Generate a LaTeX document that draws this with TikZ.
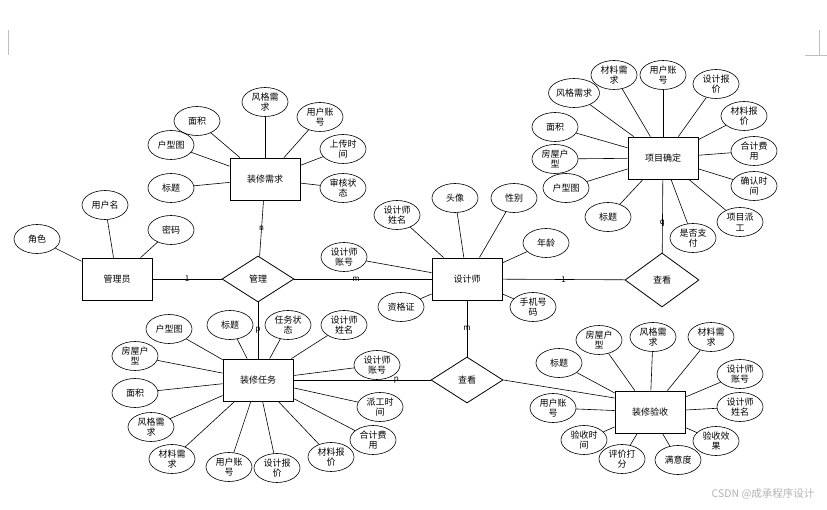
\documentclass[tikz,border=0pt]{standalone}
\usepackage{fontspec}
\setmainfont{Noto Sans CJK SC}
\usetikzlibrary{shapes.geometric}
\begin{document}
\begin{tikzpicture}[x=1pt,y=-1pt,
  ent/.style={draw,line width=0.8pt,minimum width=70pt,minimum height=42pt,inner sep=0pt,font=\fontsize{9}{11}\selectfont},
  rel/.style={draw,line width=0.8pt,diamond,aspect=1.67,minimum width=72pt,minimum height=46pt,inner sep=0pt,font=\fontsize{9}{11}\selectfont},
  att/.style={draw,ellipse,line width=0.6pt,minimum width=46pt,minimum height=29pt,inner sep=0pt,align=center,font=\fontsize{9}{10.5}\selectfont},
  card/.style={font=\fontsize{8}{9}\selectfont,inner sep=1pt},
  lk/.style={line width=0.6pt}]
\useasboundingbox (0,0) rectangle (827,510);
\draw[gray!50,line width=0.4pt] (8,30) -- (8,55) (819,30) -- (819,55) (805,55) -- (827,55);
% entities
\node[ent] (gly) at (117,279) {管理员};
\node[ent] (xq) at (265,179) {装修需求};
\node[ent] (sjs) at (467,279) {设计师};
\node[ent] (xm) at (663,158) {项目确定};
\node[ent] (rw) at (258,380) {装修任务};
\node[ent] (ys) at (650,412) {装修验收};
% relations
\node[rel] (gl) at (258,279) {管理};
\node[rel,minimum width=74pt,minimum height=54pt,aspect=1.37] (ck1) at (662,280) {查看};
\node[rel] (ck2) at (467,380) {查看};
\draw[lk] (gly) -- node[card]{1} (gl);
\draw[lk] (gl) -- node[card,pos=0.45]{m} (sjs);
\draw[lk] (xq) -- node[card]{n} (gl);
\draw[lk] (gl) -- node[card]{p} (rw);
\draw[lk] (sjs) -- node[card,pos=0.5]{1} (ck1);
\draw[lk] (xm) -- node[card,pos=0.6]{q} (ck1);
\draw[lk] (sjs) -- node[card]{m} (ck2);
\draw[lk] (rw) -- node[card,pos=0.75]{p} (ck2);
\draw[lk] (ck2.east) -- (ys.west |- 0,398);
% attributes
\foreach \n/\x/\y/\t/\e in {
 a1/37/239/{角色}/gly, a2/105/205/{用户名}/gly, a3/171/230/{密码}/gly,
 b1/197/121/{面积}/xq, b2/265/102/{风格需\\求}/xq, b3/320/117/{用户账\\号}/xq, b4/171/145/{户型图}/xq,
 b5/343/149/{上传时\\间}/xq, b6/171/188/{标题}/xq, b7/343/188/{审核状\\态}/xq,
 c1/397/215/{设计师\\姓名}/sjs, c2/455/198/{头像}/sjs, c3/514/198/{性别}/sjs, c4/546/243/{年龄}/sjs,
 c5/344/257/{设计师\\账号}/sjs, c6/401/307/{资格证}/sjs, c7/533/307/{手机号\\码}/sjs,
 d1/574/93/{风格需求}/xm, d2/614/75/{材料需\\求}/xm, d3/663/75/{用户账\\号}/xm, d4/716/84/{设计报\\价}/xm,
 d5/744/116/{材料报\\价}/xm, d6/754/151/{合计费\\用}/xm, d7/754/186/{确认时\\间}/xm, d8/740/222/{项目派\\工}/xm,
 d9/693/238/{是否支\\付}/xm, d10/608/217/{标题}/xm, d11/566/188/{户型图}/xm, d12/555/159/{房屋户\\型}/xm, d13/555/127/{面积}/xm,
 e1/169/329/{户型图}/rw, e2/230/325/{标题}/rw, e3/288/325/{任务状\\态}/rw, e4/344/325/{设计师\\姓名}/rw,
 e5/377/365/{设计师\\账号}/rw, e6/135/356/{房屋户\\型}/rw, e7/135/393/{面积}/rw, e8/151/427/{风格需\\求}/rw,
 e9/380/407/{派工时\\间}/rw, e10/373/440/{合计费\\用}/rw, e11/172/459/{材料需\\求}/rw, e12/229/467/{用户账\\号}/rw,
 e13/277/468/{设计报\\价}/rw, e14/331/457/{材料报\\价}/rw,
 f1/559/363/{标题}/ys, f2/599/340/{房屋户\\型}/ys, f3/653/337/{风格需\\求}/ys, f4/711/337/{材料需\\求}/ys,
 f5/740/374/{设计师\\账号}/ys, f6/740/407/{设计师\\姓名}/ys, f7/716/441/{验收效\\果}/ys, f8/678/460/{满意度}/ys,
 f9/622/459/{评价打\\分}/ys, f10/584/440/{验收时\\间}/ys, f11/553/408/{用户账\\号}/ys}
 { \node[att] (\n) at (\x,\y) {\t}; \draw[lk] (\n) -- (\e); }
\node[text=gray!60,font=\fontsize{10.5}{12}\selectfont,anchor=east] (wm) at (818,494) {CSDN @成承程序设计};
\end{tikzpicture}
\end{document}
